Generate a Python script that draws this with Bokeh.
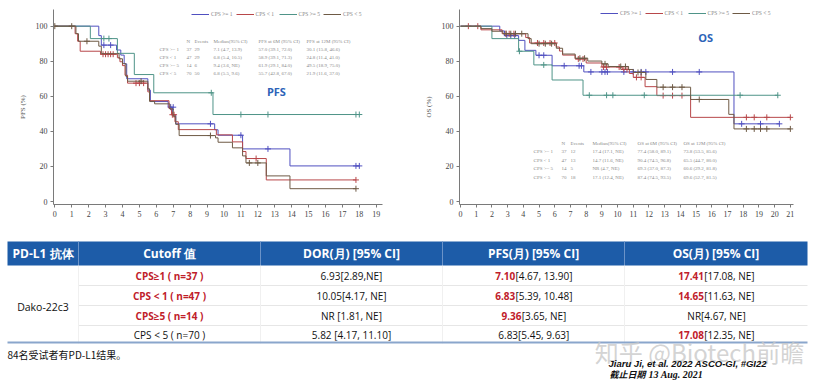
from bokeh.plotting import figure
from bokeh.models import Range1d, FixedTicker, Legend, LegendItem
from bokeh.layouts import row, column
from bokeh.embed import file_html
from bokeh.resources import INLINE
from bokeh.core.properties import value

# ---------------- data ----------------
series_labels = ["CPS >= 1", "CPS < 1", "CPS >= 5", "CPS < 5"]
series_colors = ["#5050c0", "#b8474a", "#4f9488", "#6e5a45"]

pfs_xticks = list(range(0, 20))
os_xticks = list(range(0, 22))
y_ticks = [0, 20, 40, 60, 80, 100]

# PFS curves (months, % surviving)
pfs_ge1_t = [0, 2.6, 2.75, 3.65, 3.9, 4.1, 4.25, 5.5, 5.65, 6.7, 6.95, 7.15, 9.45, 9.65, 11.1, 13.9]
pfs_ge1_s = [100, 94.6, 89.2, 86.4, 83.5, 78.5, 70.0, 63.5, 57.0, 53.8, 49.5, 44.3, 40.9, 37.8, 30.0, 20.3]
pfs_ge1_end = 18.0
pfs_ge1_ct = [2.9, 3.3, 6.85, 7.0, 9.2, 11.0, 12.6, 17.8, 18.0]
pfs_ge1_cs = [89.2, 89.2, 53.8, 53.8, 44.3, 37.8, 30.0, 20.3, 20.3]

pfs_lt1_t = [0, 1.2, 1.35, 1.5, 2.7, 3.7, 3.85, 4.0, 4.15, 4.3, 5.5, 5.6, 6.75, 6.9, 7.1, 7.3, 9.55, 10.5, 11.1, 11.3, 12.5]
pfs_lt1_s = [100, 95.7, 91.4, 85.7, 84.0, 82.0, 79.7, 77.5, 72.0, 67.5, 62.5, 57.5, 53.0, 49.5, 45.5, 41.0, 38.0, 34.0, 28.5, 24.5, 12.3]
pfs_lt1_end = 17.8
pfs_lt1_ct = [2.85, 3.0, 3.15, 3.3, 3.45, 4.8, 5.0, 5.25, 6.95, 7.05, 11.9, 17.8]
pfs_lt1_cs = [84.0, 84.0, 84.0, 84.0, 84.0, 67.5, 67.5, 67.5, 49.5, 49.5, 24.5, 12.3]

pfs_ge5_t = [0, 2.1, 3.7, 4.7, 5.85, 9.35]
pfs_ge5_s = [100, 92.9, 84.5, 72.4, 62.0, 49.6]
pfs_ge5_end = 18.0
pfs_ge5_ct = [2.9, 3.2, 9.25, 11.0, 12.6, 17.8, 18.0]
pfs_ge5_cs = [92.9, 92.9, 62.0, 49.6, 49.6, 49.6, 49.6]

pfs_lt5_t = [0, 1.25, 1.4, 2.6, 2.75, 3.8, 4.0, 4.2, 4.3, 5.5, 5.6, 5.9, 6.8, 7.0, 7.15, 7.35, 9.5, 9.65, 10.5, 11.1, 11.3, 12.5, 13.9]
pfs_lt5_s = [100, 95.7, 91.4, 88.6, 84.3, 81.4, 78.6, 71.4, 68.6, 64.3, 57.1, 55.7, 52.8, 48.6, 44.0, 37.6, 36.3, 33.8, 30.6, 26.0, 22.0, 14.6, 7.3]
pfs_lt5_end = 17.8
pfs_lt5_ct = [0.0, 1.0, 1.9, 5.1, 9.2, 11.5, 12.0, 17.8]
pfs_lt5_cs = [100, 100, 91.4, 68.6, 37.6, 22.0, 22.0, 7.3]

# OS curves
os_ge1_t = [0, 2.5, 2.8, 3.7, 4.1, 4.8, 5.83, 7.85, 17.41]
os_ge1_s = [100, 97.3, 94.6, 91.9, 86.2, 83.4, 77.4, 73.9, 44.3]
os_ge1_end = 20.3
os_ge1_ct = [2.95, 3.2, 3.45, 5.0, 5.3, 6.6, 7.55, 7.7, 8.3, 9.0, 9.2, 9.35, 10.4, 11.0, 11.5, 11.8, 13.5, 15.2, 17.9, 19.1, 20.3]
os_ge1_cs = [94.6, 94.6, 94.6, 83.4, 83.4, 77.4, 77.4, 77.4, 73.9, 73.9, 73.9, 73.9, 73.9, 73.9, 73.9, 73.9, 73.9, 73.9, 44.3, 44.3, 44.3]

os_lt1_t = [0, 1.3, 2.65, 4.15, 4.4, 6.1, 6.3, 6.5, 7.3, 8.0, 9.0, 10.3, 10.75, 11.0, 11.75, 12.5, 14.65]
os_lt1_s = [100, 97.9, 95.7, 93.5, 90.4, 88.1, 85.8, 83.5, 81.3, 79.0, 76.7, 75.3, 73.0, 70.8, 65.5, 60.4, 48.0]
os_lt1_end = 21.0
os_lt1_ct = [0.5, 1.1, 2.9, 3.1, 3.4, 4.9, 5.3, 5.7, 6.0, 7.5, 7.8, 9.1, 9.3, 10.1, 10.4, 10.6, 11.2, 11.5, 12.9, 13.5, 14.1, 18.2, 18.7, 19.5, 21.0]
os_lt1_cs = [100, 100, 95.7, 95.7, 95.7, 90.4, 90.4, 90.4, 90.4, 81.3, 81.3, 76.7, 76.7, 76.7, 75.3, 75.3, 70.8, 70.8, 60.4, 60.4, 60.4, 48.0, 48.0, 48.0, 48.0]

os_ge5_t = [0, 2.0, 3.7, 4.67, 5.83, 7.8]
os_ge5_s = [100, 92.9, 85.7, 77.9, 69.3, 60.6]
os_ge5_end = 20.2
os_ge5_ct = [3.75, 5.3, 8.2, 9.3, 9.7, 11.7, 17.8, 20.2]
os_ge5_cs = [85.7, 77.9, 60.6, 60.6, 60.6, 60.6, 60.6, 60.6]

os_lt5_t = [0, 1.3, 2.0, 2.7, 4.3, 4.5, 6.1, 6.5, 7.3, 8.1, 9.0, 9.4, 10.7, 11.0, 11.8, 12.5, 14.65, 17.08, 17.41]
os_lt5_s = [100, 98.6, 97.1, 95.7, 92.9, 90.0, 87.4, 84.1, 81.7, 80.1, 78.5, 77.0, 75.3, 73.6, 69.6, 65.2, 58.2, 49.7, 41.4]
os_lt5_end = 21.0
os_lt5_ct = [2.9, 3.2, 3.5, 3.9, 5.0, 5.4, 5.8, 7.6, 7.9, 9.2, 10.2, 10.5, 11.3, 11.5, 12.9, 13.5, 14.1, 15.2, 18.2, 18.7, 19.1, 19.5, 21.0]
os_lt5_cs = [95.7, 95.7, 95.7, 95.7, 90.0, 90.0, 90.0, 81.7, 81.7, 78.5, 77.0, 77.0, 73.6, 73.6, 65.2, 65.2, 65.2, 58.2, 41.4, 41.4, 41.4, 41.4, 41.4]

# in-plot summary tables
pfs_stat_header = ["N", "Events", "Median(95% CI)", "PFS at 6M (95% CI)", "PFS at 12M (95% CI)"]
pfs_n = ["37", "47", "14", "70"]
pfs_events = ["29", "29", "6", "50"]
pfs_median_txt = ["7.1 (4.7, 13.9)", "6.8 (5.4, 10.5)", "9.4 (3.6, NE)", "6.8 (5.5, 9.6)"]
pfs_6m_txt = ["57.0 (39.1, 72.0)", "58.9 (39.1, 71.3)", "61.9 (29.1, 84.0)", "55.7 (42.8, 67.0)"]
pfs_12m_txt = ["30.1 (15.8, 46.6)", "24.8 (11.4, 41.0)", "49.5 (18.9, 75.0)", "21.9 (11.6, 37.0)"]

os_stat_header = ["N", "Events", "Median(95% CI)", "OS at 6M (95% CI)", "OS at 12M (95% CI)"]
os_n = ["37", "47", "14", "70"]
os_events = ["12", "13", "5", "18"]
os_median_txt = ["17.4 (17.1, NE)", "14.7 (11.6, NE)", "NR (4.7, NE)", "17.1 (12.4, NE)"]
os_6m_txt = ["77.4 (58.0, 89.1)", "90.4 (74.5, 96.8)", "69.3 (37.0, 87.3)", "87.4 (74.5, 93.5)"]
os_12m_txt = ["73.8 (53.5, 85.6)", "65.5 (44.7, 80.0)", "60.6 (29.2, 81.8)", "69.6 (52.7, 81.5)"]

# bottom table
table_headers = ["PD-L1 抗体", "Cutoff 值", "DOR(月) [95% CI]", "PFS(月) [95% CI]", "OS(月) [95% CI]"]
antibody = "Dako-22c3"
cutoffs = ["CPS≥1 ( n=37 )", "CPS < 1 ( n=47 )", "CPS≥5 ( n=14 )", "CPS < 5 ( n=70 )"]
cutoff_highlight = [True, True, True, False]
dor_txt = ["6.93[2.89,NE]", "10.05[4.17, NE]", "NR [1.81, NE]", "5.82 [4.17, 11.10]"]
pfs_med = ["7.10", "6.83", "9.36", "6.83"]
pfs_ci = ["[4.67, 13.90]", "[5.39, 10.48]", "[3.65, NE]", "[5.45, 9.63]"]
pfs_hl = [True, True, True, False]
os_med = ["17.41", "14.65", "NR", "17.08"]
os_ci = ["[17.08, NE]", "[11.63, NE]", "[4.67, NE]", "[12.35, NE]"]
os_hl = [True, True, False, True]
footnote = "84名受试者有PD-L1结果。"
citation1 = "Jiaru Ji, et al. 2022 ASCO-GI, #GI22"
citation2a = "截止日期"
citation2b = "13 Aug. 2021"
watermark = "知乎 @Biotech前瞻"

# ---------------- styling helpers ----------------
SERIF = value("Liberation Serif")
SANS = value("Open Sans")
RED = "#c0202a"


def km_figure(width, xr, yr, bl, br, bb, xticks, ylabel):
    p = figure(width=width, height=230, x_range=Range1d(*xr), y_range=Range1d(*yr),
               output_backend="svg", toolbar_location=None,
               min_border_left=bl, min_border_right=br, min_border_top=9, min_border_bottom=bb)
    p.outline_line_color = None
    p.xgrid.visible = False
    p.ygrid.visible = False
    p.xaxis.ticker = FixedTicker(ticks=xticks)
    p.yaxis.ticker = FixedTicker(ticks=y_ticks)
    p.axis.axis_line_color = "#7a7a7a"
    p.axis.major_tick_line_color = "#7a7a7a"
    p.axis.major_tick_out = 3
    p.axis.major_tick_in = 0
    p.axis.minor_tick_line_color = None
    p.axis.major_label_text_font = "Liberation Serif"
    p.axis.major_label_text_font_size = "8px"
    p.axis.major_label_text_color = "#444444"
    p.axis.major_label_standoff = 3
    p.yaxis.axis_label = ylabel
    p.yaxis.axis_label_text_font = "Liberation Serif"
    p.yaxis.axis_label_text_font_size = "7px"
    p.yaxis.axis_label_text_font_style = "normal"
    p.yaxis.axis_label_text_color = "#555555"
    p.yaxis.axis_label_standoff = 6
    return p


def draw_series(p, t, s, end, ct, cs, color):
    xs = list(t) + [end]
    ys = list(s) + [s[-1]]
    r = p.step(xs, ys, mode="after", line_color=color, line_width=1)
    p.scatter(ct, cs, marker="cross", size=6, line_color=color, line_width=1)
    return r


def add_legend(p, renderers, loc):
    items = [LegendItem(label=l, renderers=[r]) for l, r in zip(series_labels, renderers)]
    lg = Legend(items=items, orientation="horizontal", location=loc,
                label_text_font="Liberation Serif", label_text_font_size="5.5px",
                label_text_color="#888888", glyph_width=18, glyph_height=6,
                label_height=6, label_standoff=2, spacing=3, padding=0, margin=0,
                border_line_alpha=0, background_fill_alpha=0)
    p.add_layout(lg)


def add_stats(p, header, names, n, ev, med, m6, m12, xcols, yrows):
    xs, ys, ts = [], [], []
    for j, h in enumerate(header):
        xs.append(xcols[j + 1]); ys.append(yrows[0]); ts.append(h)
    for i in range(len(names)):
        vals = [names[i], n[i], ev[i], med[i], m6[i], m12[i]]
        for j, v in enumerate(vals):
            xs.append(xcols[j]); ys.append(yrows[i + 1]); ts.append(v)
    p.text(x=xs, y=ys, text=ts, text_font=SERIF, text_font_size="5px",
           text_color="#8a8a8a", text_align="left", text_baseline="middle")


# ---------------- PFS figure ----------------
p1 = km_figure(410, (-0.077, 19.37), (-1.71, 109.5), 53, 28, 26, pfs_xticks, "PFS (%)")
r1 = [
    draw_series(p1, pfs_ge1_t, pfs_ge1_s, pfs_ge1_end, pfs_ge1_ct, pfs_ge1_cs, series_colors[0]),
    draw_series(p1, pfs_lt1_t, pfs_lt1_s, pfs_lt1_end, pfs_lt1_ct, pfs_lt1_cs, series_colors[1]),
    draw_series(p1, pfs_ge5_t, pfs_ge5_s, pfs_ge5_end, pfs_ge5_ct, pfs_ge5_cs, series_colors[2]),
    draw_series(p1, pfs_lt5_t, pfs_lt5_s, pfs_lt5_end, pfs_lt5_ct, pfs_lt5_cs, series_colors[3]),
]
add_legend(p1, r1, (138, 187))
add_stats(p1, pfs_stat_header, series_labels, pfs_n, pfs_events, pfs_median_txt, pfs_6m_txt, pfs_12m_txt,
          [6.19, 7.79, 8.26, 9.38, 12.04, 14.88], [91.3, 86.7, 82.1, 77.6, 73.0])
p1.text(x=[13.1], y=[62.7], text=["PFS"], text_font=SANS, text_font_size="11px",
        text_font_style="bold", text_color="#2d63b8", text_align="center", text_baseline="middle")

# ---------------- OS figure ----------------
p2 = km_figure(420, (-0.064, 21.2), (-1.70, 109.5), 49, 37, 25, os_xticks, "OS (%)")
r2 = [
    draw_series(p2, os_ge1_t, os_ge1_s, os_ge1_end, os_ge1_ct, os_ge1_cs, series_colors[0]),
    draw_series(p2, os_lt1_t, os_lt1_s, os_lt1_end, os_lt1_ct, os_lt1_cs, series_colors[1]),
    draw_series(p2, os_ge5_t, os_ge5_s, os_ge5_end, os_ge5_ct, os_ge5_cs, series_colors[2]),
    draw_series(p2, os_lt5_t, os_lt5_s, os_lt5_end, os_lt5_ct, os_lt5_cs, series_colors[3]),
]
add_legend(p2, r2, (141, 188))
add_stats(p2, os_stat_header, series_labels, os_n, os_events, os_median_txt, os_6m_txt, os_12m_txt,
          [4.65, 6.43, 7.0, 8.4, 11.27, 14.19], [32.9, 28.4, 23.3, 18.7, 13.6])
p2.text(x=[15.6], y=[93.6], text=["OS"], text_font=SANS, text_font_size="11px",
        text_font_style="bold", text_color="#2d63b8", text_align="center", text_baseline="middle")

# ---------------- table figure ----------------
TH = 154
p3 = figure(width=830, height=TH, x_range=Range1d(0, 830), y_range=Range1d(TH, 0),
            x_axis_type=None, y_axis_type=None, output_backend="svg", toolbar_location=None,
            min_border=0)
p3.outline_line_color = None

col_edges = [7, 78, 260, 442, 624, 807]
col_centers = [(a + b) / 2 for a, b in zip(col_edges[:-1], col_edges[1:])]
head_top, head_bot = 11, 35
row_edges = [35, 55, 75, 95, 113]
row_centers = [(a + b) / 2 for a, b in zip(row_edges[:-1], row_edges[1:])]

p3.quad(left=[col_edges[0]], right=[col_edges[-1]], top=[head_top], bottom=[head_bot],
        fill_color="#1d5ca8", line_color=None)
p3.segment(x0=col_edges[1:-1], y0=[head_top] * 4, x1=col_edges[1:-1], y1=[head_bot] * 4,
           line_color="#6b93c8", line_width=1)
# body grid
p3.segment(x0=[col_edges[1]] * 3, y0=row_edges[1:4], x1=[col_edges[-1]] * 3, y1=row_edges[1:4],
           line_color="#e6e6e6", line_width=1)
p3.segment(x0=col_edges[1:-1], y0=[head_bot] * 4, x1=col_edges[1:-1], y1=[row_edges[-1]] * 4,
           line_color="#f0f0f0", line_width=1)
p3.segment(x0=[col_edges[0]], y0=[row_edges[-1] - 1], x1=[col_edges[-1]], y1=[row_edges[-1] - 1],
           line_color="#8aa6cc", line_width=2)

p3.text(x=col_centers, y=[(head_top + head_bot) / 2] * 5, text=table_headers, text_font=SANS,
        text_font_size="12px", text_font_style="bold", text_color="white",
        text_align="center", text_baseline="middle")
p3.text(x=[col_centers[0]], y=[(row_edges[0] + row_edges[-1]) / 2 + 2], text=[antibody], text_font=SANS,
        text_font_size="10.5px", text_color="#111111", text_align="center", text_baseline="middle")

# cutoff column
for i, c in enumerate(cutoffs):
    p3.text(x=[col_centers[1]], y=[row_centers[i]], text=[c], text_font=SANS, text_font_size="10px",
            text_font_style="bold" if cutoff_highlight[i] else "normal",
            text_color=RED if cutoff_highlight[i] else "#111111",
            text_align="center", text_baseline="middle")

p3.text(x=[col_centers[2]] * 4, y=row_centers, text=dor_txt, text_font=SANS, text_font_size="10px",
        text_color="#111111", text_align="center", text_baseline="middle")

W_REG = {".": 0.266, ",": 0.245, " ": 0.26, "[": 0.296, "]": 0.296, "N": 0.742, "E": 0.556, "R": 0.61}
W_BLD = {".": 0.30, ",": 0.28, " ": 0.26, "[": 0.33, "]": 0.33, "N": 0.77, "E": 0.58, "R": 0.66}


def tw(s, size, bold=False):
    table = W_BLD if bold else W_REG
    return sum(table.get(ch, 0.572) for ch in s) * size


def split_cells(center, meds, cis, hls):
    bx, by, bt, nx, ny, nt = [], [], [], [], [], []
    for i in range(len(meds)):
        if hls[i]:
            w1 = tw(meds[i], 10, True)
            w2 = tw(cis[i], 10)
            start = center - (w1 + w2) / 2
            bx.append(start); by.append(row_centers[i]); bt.append(meds[i])
            nx.append(start + w1); ny.append(row_centers[i]); nt.append(cis[i])
        else:
            s = meds[i] + cis[i]
            nx.append(center - tw(s, 10) / 2); ny.append(row_centers[i]); nt.append(s)
    p3.text(x=bx, y=by, text=bt, text_font=SANS, text_font_size="10px", text_font_style="bold",
            text_color=RED, text_align="left", text_baseline="middle")
    p3.text(x=nx, y=ny, text=nt, text_font=SANS, text_font_size="10px",
            text_color="#111111", text_align="left", text_baseline="middle")


split_cells(col_centers[3], pfs_med, pfs_ci, pfs_hl)
split_cells(col_centers[4], os_med, os_ci, os_hl)

p3.text(x=[7], y=[124], text=[footnote], text_font=value("Noto Sans CJK SC"), text_font_size="10px",
        text_color="#111111", text_align="left", text_baseline="middle")
p3.text(x=[699], y=[121], text=[watermark], text_font=value("Noto Sans CJK SC"), text_font_size="24px",
        text_color="#c8c8c8", text_alpha=0.8, text_align="center", text_baseline="middle")
p3.text(x=[608], y=[133], text=[citation1], text_font=value("Liberation Sans"), text_font_size="9.5px",
        text_font_style="bold italic", text_color="#111111", text_align="left", text_baseline="middle")
p3.text(x=[609], y=[144], text=[citation2a], text_font=value("Noto Sans CJK SC"), text_font_size="9px",
        text_font_style="bold italic", text_color="#111111", text_align="left", text_baseline="middle")
p3.text(x=[648], y=[144], text=[citation2b], text_font=SERIF, text_font_size="10px",
        text_font_style="bold italic", text_color="#111111", text_align="left", text_baseline="middle")

layout = column(row(p1, p2), p3)
open("out.html", "w").write(file_html(layout, INLINE))
